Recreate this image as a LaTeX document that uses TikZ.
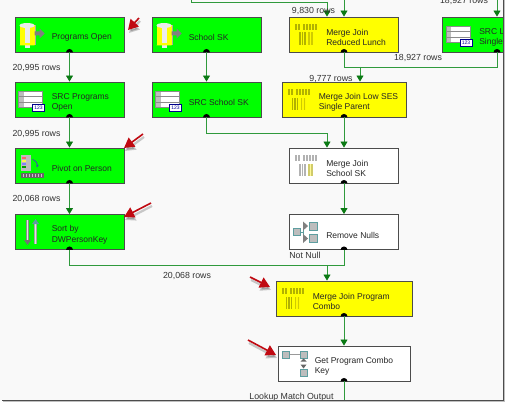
\documentclass[tikz,border=0pt]{standalone}
\usepackage{fontspec}
\usepackage{xcolor}
\setmainfont{Liberation Sans}
\usetikzlibrary{calc, arrows.meta}
\definecolor{flowgreen}{HTML}{00FF00}
\definecolor{flowline}{HTML}{2F9A3C}
\definecolor{flowhead}{HTML}{0B7A14}
\definecolor{flowyellow}{HTML}{FFFF00}
\definecolor{flowred}{HTML}{C00A12}
\definecolor{canvasgray}{HTML}{F9F9F9}
\definecolor{tilegray}{HTML}{BDBDBD}
\definecolor{tileteal}{HTML}{5E9EA0}
\tikzset{
    taskbox/.style={draw=black!70, line width=0.9pt, minimum height=35pt, inner sep=0pt},
    tasktext/.style={anchor=west, align=left, inner sep=0pt, font=\fontsize{8.5}{10.4}\selectfont, text=black!85},
    rowtext/.style={inner sep=0pt, font=\fontsize{8.8}{10}\selectfont, text=black!80},
    flow/.style={draw=flowline, line width=0.8pt, -{Triangle[length=6pt,width=7pt,color=flowhead]}},
    flowend/.style={draw=flowline, line width=0.8pt},
    redarrow/.style={draw=flowred, line width=1.6pt, -{Triangle[length=10pt,width=11pt]}},
    redshadow/.style={draw=black, opacity=0.2, line width=2.2pt, -{Triangle[length=10pt,width=11pt]}},
    pics/cylicon/.style={code={
        \fill[flowyellow] (5,-9) rectangle (20,11);
        \fill[white!85!gray] (10,-9) rectangle (15,13);
        \fill[flowyellow] (5,11) arc[start angle=180, end angle=360, x radius=7.5, y radius=2.5] -- (20,11) -- cycle;
        \fill[white!85!gray] (10,12) rectangle (15,13.2);
        \fill[black!35] (20,-9) rectangle (21,11);
        \fill[white!85!gray] (12.5,-9) ellipse[x radius=7.5, y radius=2.5];
        \fill[black!50] (20,-3) -- (25,-3) -- (25,-6) -- (30,-1) -- (25,4) -- (25,1) -- (20,1) -- cycle;
    }},
    pics/gridicon/.style={code={
        \fill[white] (4,-8) rectangle (28,8);
        \fill[tilegray] (4,-8) rectangle (9,8);
        \draw[black!45, line width=0.5pt] (4,-8) rectangle (28,8);
        \foreach \y in {-3,3} {
            \draw[black!45, line width=0.5pt] (4,\y) -- (28,\y);
        }
        \node[draw=blue!55!black, fill=white, minimum width=12pt, minimum height=6.5pt, inner sep=0pt,
            font=\fontsize{5}{5}\selectfont, text=blue!60!black] at (24,8) {123};
    }},
    pics/pivoticon/.style={code={
        \fill[tilegray] (6,-11) rectangle (16,5);
        \foreach \y/\c in {-9/red!60, -6/yellow!70, -3/blue!50, 0/green!60!black} {
            \fill[\c] (7,\y) rectangle (11,\y+2);
        }
        \fill[black!60] (6,7) rectangle (29,12);
        \foreach \x in {8,11,...,27} {
            \fill[white!70!violet] (\x,8) rectangle (\x+1.8,11);
        }
        \draw[blue!50!gray, line width=0.7pt, -{Stealth[length=3pt]}] (18,-6) to[bend left=50] (22,2);
    }},
    pics/mergeicon/.style={code={
        \foreach \x in {6,9,14,17,20,23,26} {
            \fill[black, opacity=0.3] (\x,-10.5) rectangle (\x+2,-4.5);
        }
        \foreach \x in {10,12.5,15,19,22} {
            \fill[black, opacity=0.3] (\x,-2) rectangle (\x+1.6,10.5);
        }
        \fill[yellow, opacity=0.4] (19,-2) rectangle (24,10.5);
    }},
    pics/sorticon/.style={code={
        \fill[black!45] (11.5,-12) rectangle (14.5,9);
        \fill[white!80!gray] (12.5,-12) rectangle (13.5,9);
        \fill[black!35] (19.5,-9) rectangle (22.5,12);
        \fill[white!80!gray] (20.5,-9) rectangle (21.5,12);
        \fill[black!55] (9.5,8) -- (16.5,8) -- (13,13) -- cycle;
        \fill[tileteal] (17.5,-8) -- (24.5,-8) -- (21,-13) -- cycle;
    }},
    pics/filtericon/.style={code={
        \draw[tileteal, line width=0.6pt] (11,0) -- (14,0);
        \draw[tileteal, line width=0.6pt] (14,-6) -- (14,6);
        \foreach \x/\y/\w in {4/-4/7, 20.5/-10/8, 20.5/2/8} {
            \fill[tilegray] (\x,\y) rectangle (\x+\w,\y+\w);
            \draw[tileteal, line width=0.5pt] (\x,\y) rectangle (\x+\w,\y+\w);
        }
        \fill[black!50] (14,-10.5) -- (19,-6) -- (14,-1.5) -- cycle;
        \fill[black!50] (14,2) -- (19,6.5) -- (14,11) -- cycle;
    }},
    pics/lookupicon/.style={code={
        \draw[black!40, line width=0.8pt] (12,-9) -- (23,-9);
        \foreach \x/\y in {5/-12.5, 22.5/-12.5, 22.5/6} {
            \fill[tilegray] (\x,\y) rectangle (\x+7,\y+7);
            \draw[tileteal, line width=0.5pt] (\x,\y) rectangle (\x+7,\y+7);
        }
        \fill[black!60] (23,-2) -- (29,-2) -- (26,-5) -- cycle;
        \fill[black!60] (23,1) -- (29,1) -- (26,5) -- cycle;
    }},
}

\begin{document}
\begin{tikzpicture}[x=1pt,y=-1pt]
    \useasboundingbox (0,0) rectangle (506,404);
    % Canvas
    \fill[canvasgray] (0,0) rectangle (503,400);

    \begin{scope}
    \clip (0,0) rectangle (503,400);

    % Task Boxes
    \foreach \nm/\cx/\cy/\bw/\col/\txt in {
        progopen/69.5/34.5/109/flowgreen/{Programs Open},
        srcprog/69.5/99.5/109/flowgreen/{SRC Programs\\Open},
        pivot/69.5/165.5/109/flowgreen/{Pivot on Person},
        sortkey/69.5/232/109/flowgreen/{Sort by\\DWPersonKey},
        schoolsk/206.5/34.5/109/flowgreen/{School SK},
        srcschool/206.5/99.5/109/flowgreen/{SRC School SK},
        mjlunch/344/34.5/109/flowyellow/{Merge Join\\Reduced Lunch},
        srcsingle/497/34.5/109/flowgreen/{SRC Low SES\\Single Parent},
        mjses/344/99.5/124/flowyellow/{Merge Join Low SES\\Single Parent},
        mjschool/344/165.5/109/white/{Merge Join\\School SK},
        rmnulls/344/232/109/white/{Remove Nulls},
        mjprog/344/298.5/136/flowyellow/{Merge Join Program\\Combo},
        getkey/344/363.5/132/white/{Get Program Combo\\Key}%
    } {
        \node[taskbox, fill=\col, minimum width=\bw pt] (\nm) at (\cx,\cy) {};
        \node[tasktext] (\nm text) at ([shift={(37pt,-3pt)}]\nm.west) {\txt};
        \fill[black] ([xshift=-3.5pt]\nm.south) arc[start angle=180, end angle=360, x radius=3.5, y radius=3.5] -- cycle;
    }

    % Icons
    \foreach \nm/\kind in {progopen/cylicon, schoolsk/cylicon, srcprog/gridicon, srcschool/gridicon,
        srcsingle/gridicon, pivot/pivoticon, sortkey/sorticon, mjlunch/mergeicon, mjses/mergeicon,
        mjschool/mergeicon, mjprog/mergeicon, rmnulls/filtericon, getkey/lookupicon} {
        \pic at (\nm.west) {\kind};
    }

    % Off-page Ends
    \coordinate (topa) at (191,-1);
    \coordinate (topb) at (344,-1);
    \coordinate (topc) at (497,-1);
    \coordinate (bendlunch) at (327,2);
    \coordinate (bottom) at (344,400);
    \coordinate (jointses) at (360,67);
    \coordinate (jointschool) at (327,133);
    \coordinate (jointprog) at (327,265);

    % Connectors
    \draw[flowend] (topa) |- (bendlunch);
    \draw[flow] (bendlunch) -- ([xshift=-17pt]mjlunch.north);
    \draw[flow] (topb) -- (mjlunch.north);
    \draw[flow] (topc) -- (srcsingle.north);
    \draw[flow] (progopen.south) -- (srcprog.north);
    \draw[flow] (srcprog.south) -- (pivot.north);
    \draw[flow] (pivot.south) -- (sortkey.north);
    \draw[flow] (schoolsk.south) -- (srcschool.north);
    \draw[flowend] (mjlunch.south) |- (jointses);
    \draw[flowend] (srcsingle.south) |- (jointses);
    \draw[flow] (jointses) -- ([xshift=16pt]mjses.north);
    \draw[flow] (mjses.south) -- (mjschool.north);
    \draw[flowend] (srcschool.south) |- (jointschool);
    \draw[flow] (jointschool) -- ([xshift=-17pt]mjschool.north);
    \draw[flow] (mjschool.south) -- (rmnulls.north);
    \draw[flowend] (rmnulls.south) |- (jointprog);
    \draw[flowend] (sortkey.south) |- (jointprog);
    \draw[flow] (jointprog) -- ([xshift=-17pt]mjprog.north);
    \draw[flow] (mjprog.south) -- (getkey.north);
    \draw[flowend] (getkey.south) -- (bottom);

    % Row Labels
    \node[rowtext] (rowsa) at (36.5,68) {20,995 rows};
    \node[rowtext] (rowsb) at (36.5,134) {20,995 rows};
    \node[rowtext] (rowsc) at (36.5,199) {20,068 rows};
    \node[rowtext] (rowsd) at (313.5,10.5) {9,830 rows};
    \node[rowtext] (rowse) at (464,1) {18,927 rows};
    \node[rowtext] (rowsf) at (418,57.5) {18,927 rows};
    \node[rowtext] (rowsg) at (331,78.5) {9,777 rows};
    \node[rowtext] (rowsh) at (187,276) {20,068 rows};
    \node[rowtext] (notnull) at (305,255) {Not Null};
    \node[rowtext] (matchout) at (291.5,397) {Lookup Match Output};

    % Red Arrows
    \foreach \ax/\ay/\bx/\by in {139/18/128/30, 143/134/124/148, 151/203/124/217, 250/277/270/287, 248/340/276/355} {
        \draw[redshadow] (\ax+1,\ay+3) -- (\bx+1,\by+3);
        \draw[redarrow] (\ax,\ay) -- (\bx,\by);
    }
    \end{scope}

    % Frame
    \draw[black!70, line width=1pt] (503,0) -- (503,400.5) -- (2,400.5);
    \draw[black!25, line width=1pt] (504,0) -- (504,401.5) -- (3,401.5);
\end{tikzpicture}
\end{document}
